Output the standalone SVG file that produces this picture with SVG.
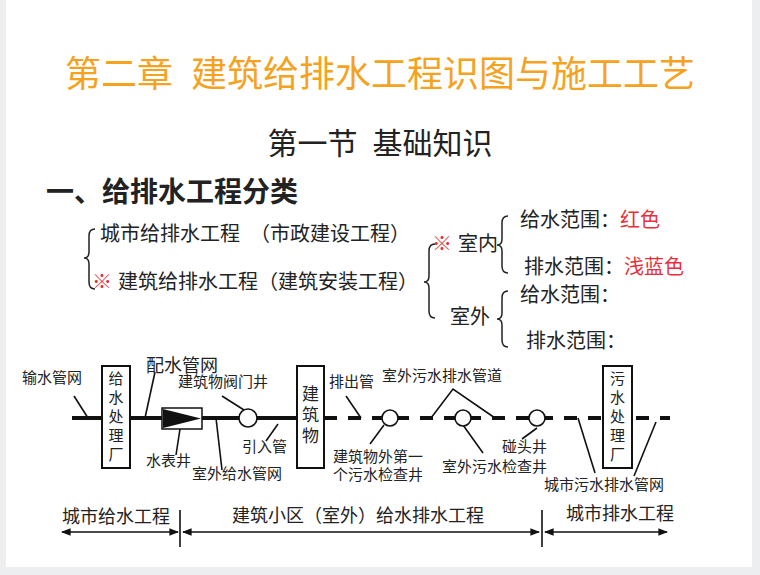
<svg xmlns="http://www.w3.org/2000/svg" width="760" height="575" viewBox="0 0 760 575">
<style>
text{font-family:"Liberation Serif","Noto Sans CJK SC",serif;fill:#222;white-space:pre}
.s{font-size:15px}
.m{font-size:20px}
.r{fill:#e8303a}
.ln{stroke:#111;stroke-width:1.6;fill:none}
.th{stroke:#111;stroke-width:4;fill:none}
.bx{fill:#fff;stroke:#111;stroke-width:2}
.br{stroke:#222;stroke-width:1.5;fill:none}
</style>
<defs>
<marker id="a" viewBox="0 0 10 10" refX="9" refY="5" markerWidth="6" markerHeight="6" orient="auto-start-reverse"><path d="M0,1 L10,5 L0,9 Z" fill="#111"/></marker>
</defs>
<rect width="760" height="575" fill="#eceef0"/>
<rect x="6" y="0" width="746" height="567" fill="#fff"/>
<text x="380" y="87" text-anchor="middle" xml:space="preserve" style="font-size:36px;fill:#f5a31f">第二章  建筑给排水工程识图与施工工艺</text>
<text x="380" y="154" text-anchor="middle" xml:space="preserve" style="font-size:30px">第一节  基础知识</text>
<text x="46" y="202" style="font-size:28px;font-weight:bold">一、给排水工程分类</text>
<g id="tree">
<text x="100" y="241" class="m" xml:space="preserve">城市给排水工程  （市政建设工程）</text>
<text x="92" y="289" class="m r">※</text>
<text x="118" y="289" class="m">建筑给排水工程（建筑安装工程）</text>
<text x="432" y="251" class="m r">※</text>
<text x="458" y="251" class="m">室内</text>
<text x="450" y="324" class="m">室外</text>
<text x="520" y="227" class="m">给水范围：<tspan class="r">红色</tspan></text>
<text x="524" y="274" class="m">排水范围：<tspan class="r">浅蓝色</tspan></text>
<text x="520" y="302" class="m">给水范围：</text>
<text x="526" y="348" class="m">排水范围：</text>
<path class="br" d="M95,229 Q89,229 89,236 L89,252 Q89,258 84,258 Q89,258 89,264 L89,282 Q89,289 95,289"/>
<path class="br" d="M435,244 Q429,244 429,251 L429,276 Q429,282 424,282 Q429,282 429,288 L429,311 Q429,318 435,318"/>
<path class="br" d="M508,216 Q502,216 502,223 L502,239 Q502,245 497,245 Q502,245 502,251 L502,266 Q502,273 508,273"/>
<path class="br" d="M508,291 Q502,291 502,298 L502,313 Q502,319 497,319 Q502,319 502,325 L502,340 Q502,347 508,347"/>
</g>
<g id="connectors">
<line class="th" x1="72" y1="418" x2="298" y2="418"/>
<line class="th" x1="324" y1="418" x2="670" y2="418" stroke-dasharray="13,11"/>
<path class="ln" d="M74,396 L88,418"/>
<path class="ln" d="M145,418 L155,372"/>
<path class="ln" d="M222,396 L244,410"/>
<path class="ln" d="M180,429 L176,455"/>
<path class="ln" d="M216,418 L222,470"/>
<path class="ln" d="M266,441 L278,424"/>
<path class="ln" d="M346,396 L361,418"/>
<path class="ln" d="M384,425 L370,444"/>
<path class="ln" d="M431,418 L453,389 L495,418"/>
<path class="ln" d="M463,425 L483,453"/>
<path class="ln" d="M522,439 L537,428"/>
<path class="ln" d="M578,418 L595,473"/>
<path class="ln" d="M656,422 L634,476"/>
<line class="ln" x1="180" y1="510" x2="180" y2="547"/>
<line class="ln" x1="542" y1="510" x2="542" y2="547"/>
<line class="ln" x1="62" y1="532" x2="178" y2="532" marker-start="url(#a)" marker-end="url(#a)"/>
<line class="ln" x1="183" y1="532" x2="539" y2="532" marker-start="url(#a)" marker-end="url(#a)"/>
<line class="ln" x1="545" y1="532" x2="667" y2="532" marker-start="url(#a)" marker-end="url(#a)"/>
</g>
<g id="plant1"><rect class="bx" x="102" y="366" width="28" height="102"/>
<text class="s" x="116" y="384" text-anchor="middle">给</text><text class="s" x="116" y="403" text-anchor="middle">水</text><text class="s" x="116" y="422" text-anchor="middle">处</text><text class="s" x="116" y="441" text-anchor="middle">理</text><text class="s" x="116" y="460" text-anchor="middle">厂</text></g>
<g id="meter"><rect x="162" y="408" width="40" height="21" fill="#fff" stroke="#111" stroke-width="1.5"/><path d="M163,409 L163,428 L201,418.5 Z" fill="#111"/></g>
<g id="valve"><circle cx="248" cy="418" r="9" fill="#fff" stroke="#111" stroke-width="1.6"/></g>
<g id="building"><rect class="bx" x="297" y="366" width="27" height="102"/>
<text class="s" x="310.5" y="400" text-anchor="middle" style="font-size:17px">建</text><text class="s" x="310.5" y="421" text-anchor="middle" style="font-size:17px">筑</text><text class="s" x="310.5" y="442" text-anchor="middle" style="font-size:17px">物</text></g>
<g id="wells">
<circle cx="390" cy="418" r="8" fill="#fff" stroke="#111" stroke-width="1.6"/>
<circle cx="463" cy="418" r="8" fill="#fff" stroke="#111" stroke-width="1.6"/>
<circle cx="537" cy="418" r="8" fill="#fff" stroke="#111" stroke-width="1.6"/>
</g>
<g id="plant2"><rect class="bx" x="603" y="366" width="29" height="102"/>
<text class="s" x="617.5" y="384" text-anchor="middle">污</text><text class="s" x="617.5" y="403" text-anchor="middle">水</text><text class="s" x="617.5" y="422" text-anchor="middle">处</text><text class="s" x="617.5" y="441" text-anchor="middle">理</text><text class="s" x="617.5" y="460" text-anchor="middle">厂</text></g>
<g id="labels">
<text class="s" x="22" y="383">输水管网</text>
<text x="146" y="372" style="font-size:18px">配水管网</text>
<text class="s" x="178" y="387">建筑物阀门井</text>
<text class="s" x="146" y="466">水表井</text>
<text class="s" x="192" y="479">室外给水管网</text>
<text class="s" x="242" y="452">引入管</text>
<text class="s" x="329" y="387">排出管</text>
<text class="s" x="382" y="381">室外污水排水管道</text>
<text class="s" x="333" y="462">建筑物外第一</text>
<text class="s" x="333" y="480">个污水检查井</text>
<text class="s" x="442" y="472">室外污水检查井</text>
<text class="s" x="502" y="452">碰头井</text>
<text class="s" x="544" y="490">城市污水排水管网</text>
<text x="62" y="523" style="font-size:18px">城市给水工程</text>
<text x="232" y="522" style="font-size:18px">建筑小区（室外）给水排水工程</text>
<text x="566" y="520" style="font-size:18px">城市排水工程</text>
</g>
</svg>
